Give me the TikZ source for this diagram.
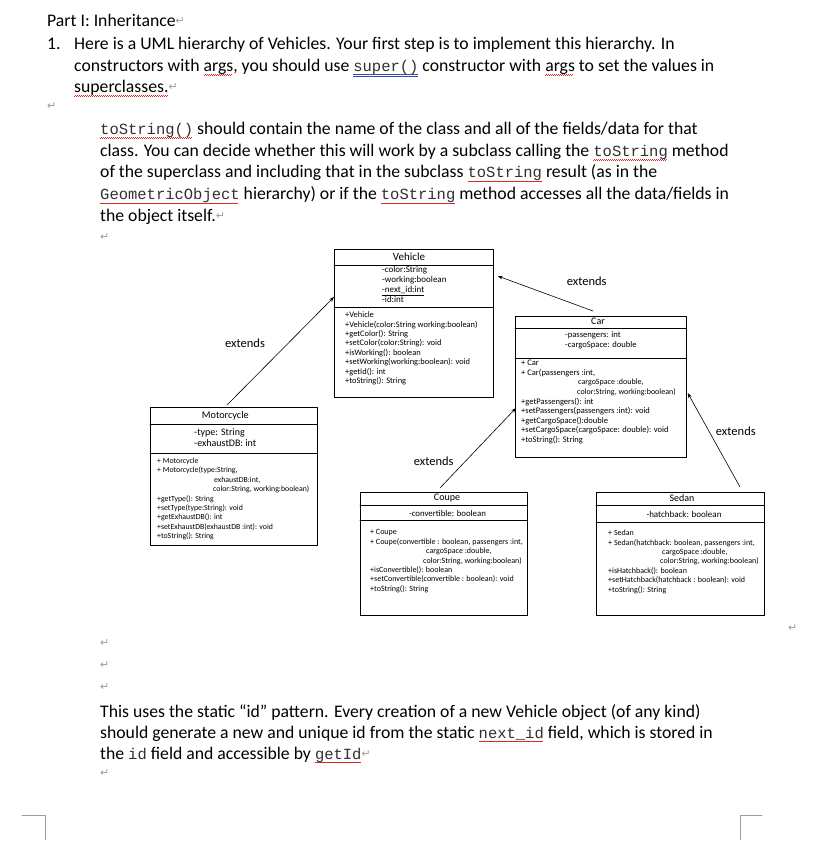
\documentclass[tikz,border=0pt]{standalone}
\usepackage{fontspec}
\setmainfont{Carlito}
\newfontfamily\codefont{Liberation Mono}
\newfontfamily\markfont{DejaVu Sans}
\usetikzlibrary{arrows.meta, positioning, calc}

\definecolor{markgray}{HTML}{9C9C9C}
\definecolor{squigred}{HTML}{E02525}
\definecolor{gramblue}{HTML}{2F4FB0}
\definecolor{codegray}{HTML}{303030}

\newsavebox{\sqbox}
\newcommand{\bodyfont}{\fontsize{17.7}{21.5}\selectfont}
\newcommand{\code}[1]{{\codefont\fontsize{15.5}{18}\selectfont\color{codegray}#1}}
\newcommand{\rtn}{{\markfont\fontsize{11}{12}\selectfont\color{markgray}\raisebox{2pt}{↵}}}
\newcommand{\squig}[1]{\sbox{\sqbox}{#1}\rlap{\color{squigred}\leaders\hbox{\rule[-4pt]{1pt}{0.6pt}\rule[-3.1pt]{1pt}{0.6pt}}\hskip\wd\sqbox}\usebox{\sqbox}}
\newcommand{\dblblue}[1]{\sbox{\sqbox}{#1}\rlap{\color{gramblue}\rule[-3pt]{\wd\sqbox}{0.55pt}}\rlap{\color{gramblue}\rule[-4.7pt]{\wd\sqbox}{0.55pt}}\usebox{\sqbox}}
\newcommand{\codesq}[1]{\squig{\code{#1}}}
\newcommand{\codebl}[1]{\dblblue{\code{#1}}}

\begin{document}
\begin{tikzpicture}[x=1pt, y=-1pt, line cap=round, line join=round,
    bodytext/.style={anchor=base west, inner sep=0pt, font=\bodyfont},
    classbox/.style={draw, line width=0.7pt, anchor=north west, inner sep=0pt},
    ctitle/.style={inner sep=0pt, font=\fontsize{10}{11}\selectfont},
    members/.style={anchor=north west, inner sep=0pt, align=left},
    extends/.style={-{Stealth[length=5pt, width=3.6pt]}, line width=0.6pt},
    extlabel/.style={inner sep=0pt, font=\fontsize{12.5}{15}\selectfont}]
  \useasboundingbox (0,0) rectangle (820,861);

  % Texto de arriba
  \node[bodytext] (partTitle) at (47,27) {Part I: Inheritance\rtn};
  \node[bodytext] (itemNum) at (47,50) {1.};
  \node[bodytext] (itemA) at (74,50) {Here is a UML hierarchy of Vehicles. Your first step is to implement this hierarchy. In};
  \node[bodytext] (itemB) at (74,72) {constructors with \squig{args}, you should use \codebl{super()} constructor with \squig{args} to set the values in};
  \node[bodytext] (itemC) at (74,93) {\squig{superclasses.}\rtn};
  \node[bodytext] (blankA) at (47,112) {\rtn};

  \node[bodytext] (paraA) at (100,135) {\codesq{toString()} should contain the name of the class and all of the fields/data for that};
  \node[bodytext] (paraB) at (100,157) {class. You can decide whether this will work by a subclass calling the \codesq{toString} method};
  \node[bodytext] (paraC) at (100,178) {of the superclass and including that in the subclass \codesq{toString} result (as in the};
  \node[bodytext] (paraD) at (100,200) {\codesq{GeometricObject} hierarchy) or if the \codesq{toString} method accesses all the data/fields in};
  \node[bodytext] (paraE) at (100,221) {the object itself.\rtn};
  \node[bodytext] (blankB) at (100,242) {\rtn};

  % Vehicle
  \node[classbox, minimum width=159, minimum height=148] (vehicle) at (334,249) {};
  \draw[line width=0.7pt] ([yshift=-16]vehicle.north west) -- ([yshift=-16]vehicle.north east);
  \draw[line width=0.7pt] ([yshift=-58.5]vehicle.north west) -- ([yshift=-58.5]vehicle.north east);
  \node[ctitle, font=\fontsize{11}{12}\selectfont] (vehicleName) at (409,256.7) {Vehicle};
  \node[members, font=\fontsize{9}{10}\selectfont] (vehicleFields) at (382,266.4)
    {-color:String\\-working:boolean\\\underline{-next\_id:int}\\-id:int};
  \node[members, font=\fontsize{8.4}{9.45}\selectfont] (vehicleMethods) at (345,311.6)
    {+Vehicle\\+Vehicle(color:String working:boolean)\\+getColor(): String\\+setColor(color:String): void\\+isWorking(): boolean\\+setWorking(working:boolean): void\\+getId(): int\\+toString(): String};

  % Car
  \node[classbox, minimum width=171, minimum height=141] (car) at (515,316) {};
  \draw[line width=0.7pt] ([yshift=-12.3]car.north west) -- ([yshift=-12.3]car.north east);
  \draw[line width=0.7pt] ([yshift=-42.3]car.north west) -- ([yshift=-42.3]car.north east);
  \node[ctitle] (carName) at (598,321.7) {Car};
  \node[members, font=\fontsize{8.6}{10}\selectfont] (carFields) at (565,331.6)
    {-passengers: int\\-cargoSpace: double};
  \node[members, font=\fontsize{8.5}{9.6}\selectfont] (carMethods) at (521,360)
    {+ Car\\+ Car(passengers :int,\\{\fontsize{8}{9.6}\selectfont\hspace*{57pt}cargoSpace :double,}\\{\fontsize{8}{9.6}\selectfont\hspace*{56pt}color:String, working:boolean)}\\+getPassengers(): int\\+setPassengers(passengers :int): void\\+getCargoSpace():double\\+setCargoSpace(cargoSpace: double): void\\+toString(): String};

  % Motorcycle
  \node[classbox, minimum width=167, minimum height=138] (moto) at (150,407.3) {};
  \draw[line width=0.7pt] ([yshift=-16.7]moto.north west) -- ([yshift=-16.7]moto.north east);
  \draw[line width=0.7pt] ([yshift=-46]moto.north west) -- ([yshift=-46]moto.north east);
  \node[ctitle, font=\fontsize{10.2}{11}\selectfont] (motoName) at (225.3,415.7) {Motorcycle};
  \node[members, font=\fontsize{10}{11}\selectfont] (motoFields) at (194,428.3)
    {-type: String\\-exhaustDB: int};
  \node[members, font=\fontsize{7.8}{9.4}\selectfont] (motoMethods) at (157,457.8)
    {+ Motorcycle\\+ Motorcycle(type:String,\\\hspace*{57pt}exhaustDB:int,\\\hspace*{56pt}color:String, working:boolean)\\+getType(): String\\+setType(type:String): void\\+getExhaustDB(): int\\+setExhaustDB(exhaustDB :int): void\\+toString(): String};

  % Coupe
  \node[classbox, minimum width=167, minimum height=123] (coupe) at (360,492) {};
  \draw[line width=0.7pt] ([yshift=-13]coupe.north west) -- ([yshift=-13]coupe.north east);
  \draw[line width=0.7pt] ([yshift=-28]coupe.north west) -- ([yshift=-28]coupe.north east);
  \node[ctitle] (coupeName) at (447,498.5) {Coupe};
  \node[inner sep=0pt, font=\fontsize{8.8}{9}\selectfont] (coupeFields) at (447.5,513) {-convertible: boolean};
  \node[members, font=\fontsize{8}{9.4}\selectfont] (coupeMethods) at (370,529.5)
    {+ Coupe\\+ Coupe(convertible : boolean, passengers :int,\\\hspace*{56pt}cargoSpace :double,\\\hspace*{53pt}color:String, working:boolean)\\+isConvertible(): boolean\\+setConvertible(convertible : boolean): void\\+toString(): String};

  % Sedan
  \node[classbox, minimum width=168, minimum height=123] (sedan) at (596,492) {};
  \draw[line width=0.7pt] ([yshift=-13]sedan.north west) -- ([yshift=-13]sedan.north east);
  \draw[line width=0.7pt] ([yshift=-30.5]sedan.north west) -- ([yshift=-30.5]sedan.north east);
  \node[ctitle] (sedanName) at (682,498.5) {Sedan};
  \node[inner sep=0pt, font=\fontsize{9}{9}\selectfont] (sedanFields) at (684,514) {-hatchback: boolean};
  \node[members, font=\fontsize{8}{9.4}\selectfont] (sedanMethods) at (608,530)
    {+ Sedan\\+ Sedan(hatchback: boolean, passengers :int,\\\hspace*{54pt}cargoSpace :double,\\\hspace*{52pt}color:String, working:boolean)\\+isHatchback(): boolean\\+setHatchback(hatchback : boolean): void\\+toString(): String};

  % Herencia
  \draw[extends] ([xshift=77,yshift=2.3]moto.north west) -- ([yshift=-48]vehicle.north west);
  \draw[extends] ([xshift=78,yshift=5]car.north west) -- ([xshift=4,yshift=-27]vehicle.north east);
  \draw[extends] ([xshift=80,yshift=4]coupe.north west) -- ([xshift=1,yshift=-92]car.north west);
  \draw[extends] ([xshift=144,yshift=5]sedan.north west) -- ([xshift=1,yshift=-77]car.north east);
  \node[extlabel] (extMoto) at (245,343.3) {extends};
  \node[extlabel] (extCar) at (586.7,281.7) {extends};
  \node[extlabel] (extCoupe) at (433.7,461) {extends};
  \node[extlabel] (extSedan) at (735.8,431.7) {extends};

  % Texto de abajo
  \node[bodytext] (blankC) at (100,648) {\rtn};
  \node[bodytext] (blankD) at (100,670) {\rtn};
  \node[bodytext] (blankE) at (100,692) {\rtn};
  \node[bodytext] (blankR) at (788,633) {\rtn};
  \node[bodytext] (noteA) at (100,717) {This uses the static “id” pattern. Every creation of a new Vehicle object (of any kind)};
  \node[bodytext] (noteB) at (100,738) {should generate a new and unique id from the static \codesq{next\_id} field, which is stored in};
  \node[bodytext] (noteC) at (100,759) {the \code{id} field and accessible by \codesq{getId}\rtn};
  \node[bodytext] (blankF) at (100,778) {\rtn};

  % Marcas de margen
  \draw[markgray, line width=0.6pt] (22,815) -- (45,815) -- (45,840);
  \draw[markgray, line width=0.6pt] (740,840) -- (740,815) -- (762,815);
\end{tikzpicture}
\end{document}
